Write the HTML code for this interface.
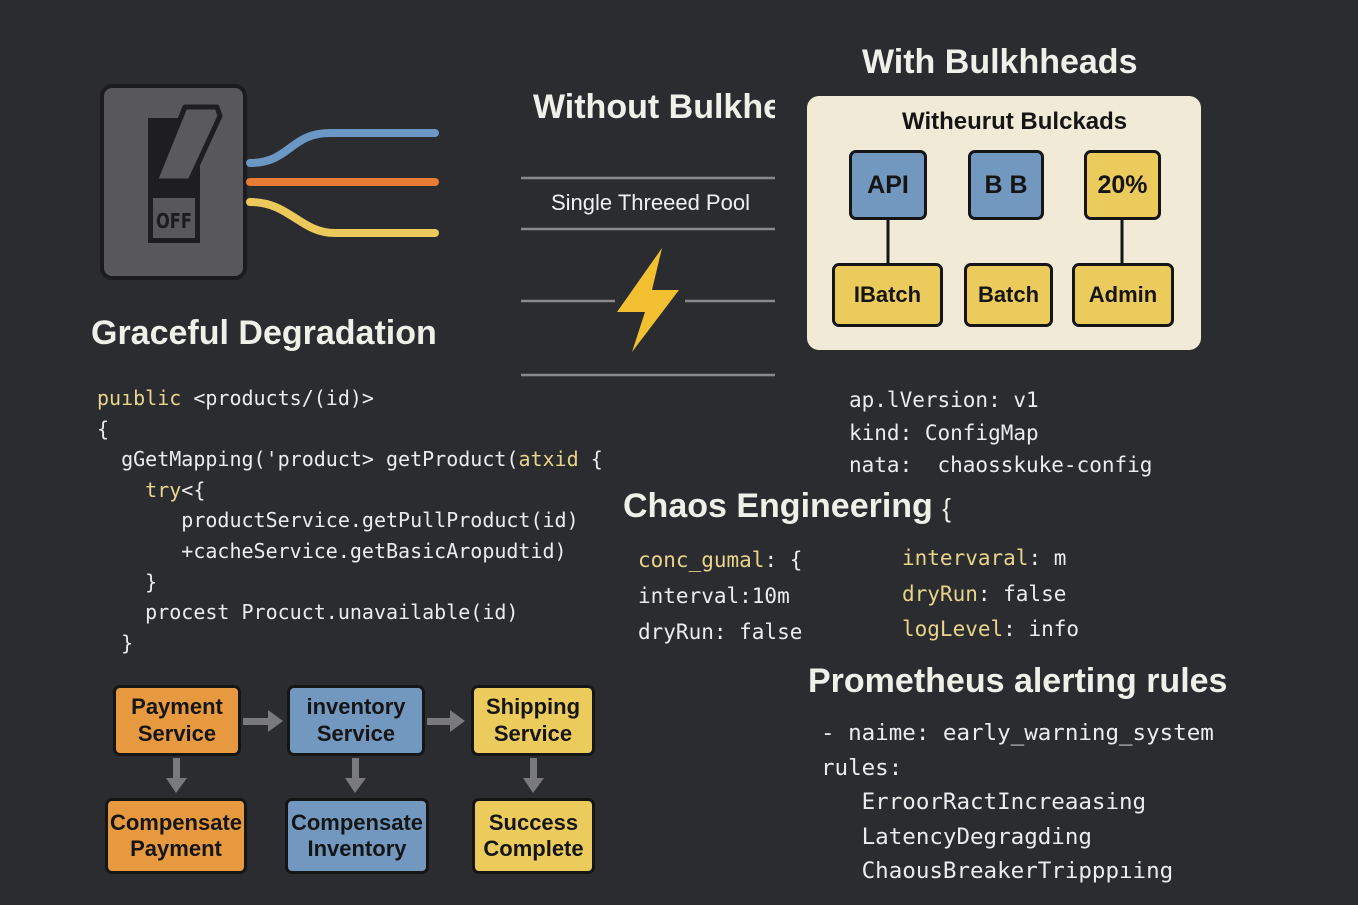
<!DOCTYPE html>
<html><head><meta charset="utf-8"><style>
html,body{margin:0;padding:0;}
body{width:1358px;height:905px;background:#2b2c2f;position:relative;overflow:hidden;font-family:"Liberation Sans",sans-serif;color:#ececec;}
.t{position:absolute;white-space:pre;line-height:1;}
.h{font-weight:bold;color:#f0f0ea;}
.m{font-family:"DejaVu Sans Mono","Liberation Mono",monospace;color:#ececec;}
.y{color:#e8d48a;}
.b{position:absolute;border:3px solid #151515;border-radius:7px;box-sizing:border-box;display:flex;align-items:center;justify-content:center;text-align:center;color:#151515;font-size:22px;line-height:1.2;font-family:"Liberation Sans",sans-serif;font-weight:bold;}
.or{background:#e6993f;}
.bl{background:#7298bf;}
.ye{background:#eccb5d;}
</style></head><body>
<svg width="1358" height="905" style="position:absolute;left:0;top:0">
  <rect x="102" y="86" width="143" height="192" rx="10" fill="#58585c" stroke="#1c1c1e" stroke-width="4"/>
  <rect x="148" y="118" width="52" height="125" fill="#1e1e20"/>
  <polygon points="185,107 217,107 220,116 190,181 155,181" fill="#5a5a5e" stroke="#1e1e20" stroke-width="5" stroke-linejoin="round"/>
  <rect x="153" y="198" width="42" height="40" fill="#58585c"/>
  <text x="174" y="228" text-anchor="middle" font-family="DejaVu Sans Condensed, DejaVu Sans" font-weight="bold" font-size="20" fill="#1c1c1e" textLength="36" lengthAdjust="spacingAndGlyphs">OFF</text>
  <path d="M250 163 C290 163 290 133 330 133 L435 133" stroke="#6a97c4" stroke-width="8" fill="none" stroke-linecap="round"/>
  <path d="M250 182 L435 182" stroke="#e97b35" stroke-width="8" fill="none" stroke-linecap="round"/>
  <path d="M250 202 C290 202 300 233 335 233 L435 233" stroke="#edc85b" stroke-width="8" fill="none" stroke-linecap="round"/>
  <line x1="521" y1="178" x2="775" y2="178" stroke="#8a8a8c" stroke-width="2.5"/>
  <line x1="521" y1="229" x2="775" y2="229" stroke="#8a8a8c" stroke-width="2.5"/>
  <line x1="521" y1="301" x2="615" y2="301" stroke="#8a8a8c" stroke-width="2.5"/>
  <line x1="685" y1="301" x2="775" y2="301" stroke="#8a8a8c" stroke-width="2.5"/>
  <line x1="521" y1="375" x2="775" y2="375" stroke="#8a8a8c" stroke-width="2.5"/>
  <polygon points="662,248 617,312 645,312 632,352 679,290 652,290" fill="#f2c030"/>
  <rect x="807" y="96" width="394" height="254" rx="12" fill="#f1ead6"/>
  <line x1="888" y1="218" x2="888" y2="266" stroke="#151515" stroke-width="3"/>
  <line x1="1122" y1="218" x2="1122" y2="266" stroke="#151515" stroke-width="3"/>
  <g fill="#7a7a7c">
    <rect x="243" y="718" width="26" height="7"/><polygon points="268,710 283,721 268,732"/>
    <rect x="427" y="718" width="24" height="7"/><polygon points="450,710 465,721 450,732"/>
    <rect x="173" y="758" width="7" height="22"/><polygon points="166,778 187,778 176,793"/>
    <rect x="352" y="758" width="7" height="22"/><polygon points="345,778 366,778 355,793"/>
    <rect x="530" y="758" width="7" height="22"/><polygon points="523,778 544,778 533,793"/>
  </g>
</svg>

<div class="t h" style="left:91px;top:316px;font-size:34px;">Graceful Degradation</div>
<div class="t h" style="left:533px;top:90px;font-size:34px;width:242px;overflow:hidden;">Without Bulkheads</div>
<div class="t" style="left:551px;top:192px;font-size:22px;color:#f0f0f0;">Single Threeed Pool</div>
<div class="t h" style="left:862px;top:45px;font-size:34px;">With Bulkhheads</div>
<div class="t" style="left:902px;top:110px;font-size:24px;color:#151515;font-weight:bold;">Witheurut Bulckads</div>

<div class="b bl" style="left:849px;top:150px;width:78px;height:70px;font-size:25px;">API</div>
<div class="b bl" style="left:968px;top:150px;width:76px;height:70px;font-size:25px;">B B</div>
<div class="b ye" style="left:1084px;top:150px;width:77px;height:70px;font-size:25px;">20%</div>
<div class="b ye" style="left:832px;top:263px;width:111px;height:64px;">IBatch</div>
<div class="b ye" style="left:964px;top:263px;width:89px;height:64px;">Batch</div>
<div class="b ye" style="left:1072px;top:263px;width:102px;height:64px;">Admin</div>

<div class="t m" style="left:97px;top:383px;font-size:20px;line-height:30.6px;"><span class="y">puıblic</span> &lt;products/(id)&gt;
{
  gGetMapping('product&gt; getProduct(<span class="y">atxid</span> {
    <span class="y">try</span>&lt;{
       productService.getPullProduct(id)
       +cacheService.getBasicAropudtid)
    }
    procest Procuct.unavailable(id)
  }</div>

<div class="t m" style="left:849px;top:384px;font-size:21px;line-height:32.5px;">ap.lVersion: v1
kind: ConfigMap
nata:  chaosskuke-config</div>

<div class="t h" style="left:623px;top:489px;font-size:34px;">Chaos Engineering <span style="font-weight:normal;font-size:26px;">{</span></div>
<div class="t m" style="left:638px;top:542px;font-size:21px;line-height:36px;"><span class="y">conc_gumal</span>: {
interval:10m
dryRun: false</div>
<div class="t m" style="left:902px;top:541px;font-size:21px;line-height:35.5px;"><span class="y">intervaral</span>: m
<span class="y">dryRun</span>: false
<span class="y">logLevel</span>: info</div>

<div class="t h" style="left:808px;top:664px;font-size:34px;">Prometheus alerting rules</div>
<div class="t m" style="left:821px;top:716px;font-size:22.5px;line-height:34.5px;">- naime: early_warning_system
rules:
   ErroorRactIncreaasing
   LatencyDegragding
   ChaousBreakerTripppıing</div>

<div class="b or" style="left:113px;top:685px;width:128px;height:71px;">Payment<br>Service</div>
<div class="b bl" style="left:287px;top:685px;width:138px;height:71px;">inventory<br>Service</div>
<div class="b ye" style="left:471px;top:685px;width:124px;height:71px;">Shipping<br>Service</div>
<div class="b or" style="left:105px;top:798px;width:142px;height:76px;">Compensate<br>Payment</div>
<div class="b bl" style="left:285px;top:798px;width:144px;height:76px;">Compensate<br>Inventory</div>
<div class="b ye" style="left:472px;top:798px;width:123px;height:76px;">Success<br>Complete</div>
</body></html>
